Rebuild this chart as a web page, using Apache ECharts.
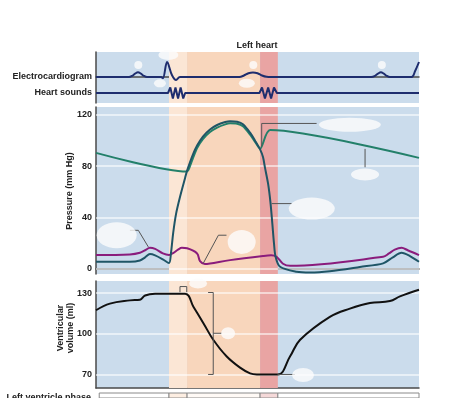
<!DOCTYPE html>
<html>
<head>
<meta charset="utf-8">
<script src="https://cdn.jsdelivr.net/npm/echarts@6/dist/echarts.min.js"></script>
<style>
html, body { margin: 0; padding: 0; background: #fff; }
#main { width: 474px; height: 398px; }
</style>
</head>
<body>
<div id="main"></div>
<script>
// time runs 0..100 across the window
const phaseEdges = [0, 22.6, 28.2, 50.8, 56.3, 100];

const ecg = [[0,0],[10.2,0],[11.2,1.2],[12.1,3.4],[13.0,4.8],[13.9,3.4],[14.8,1.2],[15.8,0],
  [20.1,0],[20.7,-1.2],[22.0,15],[23.5,2],[24.8,-3],[26.0,0],
  [44.4,0],[45.8,1.5],[47.2,3.8],[48.6,4.6],[50.0,3.8],[51.4,1.5],[52.8,0.2],[54.2,0],
  [85.2,0],[86.4,1.2],[87.3,3.4],[88.2,4.8],[89.1,3.4],[90.0,1.2],[91.0,0],
  [97.7,0],[98.8,6],[100,15]];

const heartSounds = [[0,-16],[22.3,-16],[23.0,-10.5],[23.8,-21.5],[24.6,-10.5],[25.4,-21.5],[26.2,-10.5],[27.0,-21.5],[27.6,-16],
  [50.6,-16],[51.4,-10.5],[52.3,-21.5],[53.3,-10.5],[54.2,-21.5],[55.1,-10.5],[56.0,-16],[100,-16]];

const aorticPressure = [[0,90.3],[28.1,75.8],[28.6,77],[29.1,80],[30.0,86],[31.3,94],[33.1,101],[35.3,106.5],
  [37.5,110],[40.0,112.5],[41.5,113.3],[43.7,113],[45.5,111],[47.7,104.5],[49.2,99],[50.8,93.5],
  [53.9,108],[100,86.4]];

const ventricularPressure = [[0,5.5],[10.5,5.5],[13.6,6.5],[15.2,9],[16.7,11.5],[18.3,10.5],[20.7,7.4],[22.6,4.5],
  [23.2,12],[23.9,28],[24.8,43],[26.0,56],[27.6,71],[28.2,76.5],[29.1,83],[30.0,89],[31.3,96],[33.1,103],
  [35.3,108.5],[37.5,112],[40.0,114.3],[41.5,115],[43.7,114.5],[45.5,112.5],[47.7,106],[49.2,100],[50.8,93],
  [51.7,87],[52.3,79],[53.3,66],[54.0,52],[54.6,35],[55.1,20],[55.6,9.4],[57.0,1.6],[62.1,-2.2],[66.3,-2.8],
  [72.4,-1.8],[81.7,1.5],[88.9,4.3],[91.9,9],[94.6,12.5],[97.2,10],[100,5.5]];

const atrialPressure = [[0,10.7],[10.5,11.2],[13.6,12.5],[15.2,14.5],[16.7,16.4],[18.3,15.5],[20.7,12],[22.6,10.8],
  [24.0,12.5],[25.4,15],[26.6,16.4],[28.2,16],[31.3,12],[32.2,6],[33.7,3.8],[35.3,4.2],[41.5,6.8],
  [51.7,10],[54.2,10.5],[55.9,9.4],[57.9,4],[60.1,2.4],[88.9,9.4],[90.7,12],[92.5,15],[94.6,16.4],[96.5,14.5],[100,10.7]];

const volume = [[0,117.4],[4.3,122.3],[10.5,124.7],[13.6,125.2],[15.2,128.3],[18.3,129.5],[27.6,129.5],
  [30.2,119.8],[33.3,107.7],[36.3,95.6],[40.4,83.4],[44.6,75],[47.7,70.8],[49.8,70],[56.3,70],
  [60.1,83.4],[63.2,95.6],[72.4,112.5],[78.6,118.6],[84.8,122.7],[91.0,124.2],[94.1,127.6],[100,132.5]];

const ecgTicks = [0, -16];
const ecgTickNames = ['Electrocardiogram', 'Heart sounds'];
const pressureTicks = [0, 40, 80, 120];
const volumeTicks = [70, 100, 130];

// leader lines and blanked-out label patches
const pressureLeaders = [
  [[10.5,30],[13.1,30],[16.2,17.1]],
  [[40.4,26.2],[37.9,26.2],[33.2,4.3]],
  [[51.3,95.2],[51.3,113.2],[68.3,113.2]],
  [[83.3,93.4],[83.3,79.1]],
  [[54.4,50.8],[60.6,50.8]]
];
const volumeLeaders = [
  [[26.0,130.7],[26.0,134.9],[28.1,134.9],[28.1,130.7]],
  [[34.7,130.5],[36.3,130.5],[36.3,70],[34.7,70]],
  [[36.3,100.4],[39.0,100.4]],
  [[56.2,70],[61.6,70]]
];
const ecgNotes = [[13.1,12],[22.4,22],[19.8,-6.3],[48.7,12],[46.7,-6.3],[88.5,12]];
const pressureNotes = [[6.4,26.2],[45.1,21],[78.6,112.2],[83.3,73.5],[66.8,46.9]];
const volumeNotes = [[31.6,137.1],[40.9,100.4],[64.1,69.6]];

// sizes of the blank patches (px)
const ecgNoteSizes = [[8,8],[20,10],[12,8],[8,8],[16,9],[8,8]];
const pressureNoteSizes = [[40,26],[28,24],[62,14],[28,12],[46,22]];
const volumeNoteSizes = [[18,10],[14,12],[22,14]];

const blue = '#cbdcec';
const phaseColors = [null, '#fbe6d5', '#f8d6bc', '#e9a4a3', null];
const stripColors = ['#ffffff', '#fdeee2', '#fffaf6', '#f5d9d9', '#ffffff'];
const font = 'Liberation Sans';

var chartDom = document.getElementById('main');
var myChart = echarts.init(chartDom, null, { renderer: 'canvas' });

function bands(idx) {
  const data = [];
  for (let i = 0; i < phaseColors.length; i++) {
    if (!phaseColors[i]) continue;
    data.push([{ xAxis: phaseEdges[i], itemStyle: { color: phaseColors[i] } }, { xAxis: phaseEdges[i + 1] }]);
  }
  return {
    type: 'line', xAxisIndex: idx, yAxisIndex: idx, data: [], z: 1, silent: true,
    markArea: { silent: true, data: data }
  };
}

function gridLines(idx, ticks) {
  return {
    type: 'line', xAxisIndex: idx, yAxisIndex: idx, data: [], z: 2, silent: true,
    markLine: {
      silent: true, symbol: 'none', label: { show: false },
      lineStyle: { color: 'rgba(255,255,255,0.75)', width: 1.5, type: 'solid' },
      data: ticks.map(v => ({ yAxis: v }))
    }
  };
}

function leaders(idx, list) {
  return list.map(pts => ({
    type: 'line', xAxisIndex: idx, yAxisIndex: idx, data: pts, z: 6, silent: true,
    symbol: 'none', lineStyle: { color: '#555', width: 1 }
  }));
}

function notes(idx, pts, sizes) {
  return {
    type: 'scatter', xAxisIndex: idx, yAxisIndex: idx, z: 7, silent: true,
    data: pts.map((p, i) => ({ value: p, symbolSize: sizes[i] })),
    symbol: 'circle', itemStyle: { color: '#fdfdfd' }
  };
}

function curve(idx, data, color, smooth) {
  return {
    type: 'line', xAxisIndex: idx, yAxisIndex: idx, data: data, z: 5, silent: true,
    symbol: 'none', smooth: smooth,
    lineStyle: { color: color, width: 2 }
  };
}

const axisLine = { show: true, lineStyle: { color: '#4a4a4a', width: 1.5 } };
const labelStyle = { fontFamily: font, fontWeight: 'bold', fontSize: 9, color: '#222', margin: 4 };

function xAx(idx, show) {
  return { type: 'value', gridIndex: idx, min: 0, max: 100, show: show, axisLine: axisLine,
    axisTick: { show: false }, axisLabel: { show: false }, splitLine: { show: false } };
}
function yAx(idx, min, max, ticks, fmt) {
  return { type: 'value', gridIndex: idx, min: min, max: max, axisLine: axisLine,
    axisTick: { show: false }, splitLine: { show: false },
    axisLabel: Object.assign({ customValues: ticks, formatter: fmt }, labelStyle) };
}

var option = {
  backgroundColor: '#fff',
  animation: false,
  grid: [
    { left: 96, top: 52, width: 323, height: 51, show: true, backgroundColor: blue, borderWidth: 0 },
    { left: 96, top: 107, width: 323, height: 167, show: true, backgroundColor: blue, borderWidth: 0 },
    { left: 96, top: 281, width: 323, height: 107, show: true, backgroundColor: blue, borderWidth: 0 },
    { left: 96, top: 393, width: 323, height: 20 }
  ],
  xAxis: [xAx(0, true), xAx(1, true), xAx(2, true), xAx(3, false)],
  yAxis: [
    yAx(0, -26, 25, ecgTicks, v => ecgTickNames[ecgTicks.indexOf(v)]),
    yAx(1, -4, 126, pressureTicks, v => String(v)),
    yAx(2, 60, 139, volumeTicks, v => String(v)),
    { type: 'value', gridIndex: 3, min: 0, max: 1, show: false }
  ],
  graphic: [
    { type: 'text', x: 257, y: 46, style: { text: 'Left heart', align: 'center', verticalAlign: 'middle',
      font: 'bold 9px "' + font + '"', fill: '#222' } },
    { type: 'text', x: 70, y: 191, rotation: Math.PI / 2, style: { text: 'Pressure (mm Hg)', align: 'center',
      verticalAlign: 'middle', font: 'bold 9px "' + font + '"', fill: '#222' } },
    { type: 'text', x: 66, y: 328, rotation: Math.PI / 2, style: { text: 'Ventricular\nvolume (ml)', align: 'center',
      verticalAlign: 'middle', lineHeight: 10, font: 'bold 9px "' + font + '"', fill: '#222' } },
    { type: 'text', x: 91, y: 393, style: { text: 'Left ventricle phase', align: 'right', verticalAlign: 'top',
      font: 'bold 9px "' + font + '"', fill: '#222' } }
  ],
  series: [
    bands(0), bands(1), bands(2),
    gridLines(1, pressureTicks), gridLines(2, volumeTicks),
    {
      type: 'line', xAxisIndex: 3, yAxisIndex: 3, data: [], z: 1, silent: true,
      markArea: { silent: true, data: stripColors.map((c, i) => [
        { xAxis: i === 0 ? 1 : phaseEdges[i], itemStyle: { color: c, borderColor: '#8a8a8a', borderWidth: 1 } },
        { xAxis: phaseEdges[i + 1] }
      ]) }
    },
    curve(0, ecg, '#1e2d6e', 0.35),
    curve(0, heartSounds, '#1e2d6e', false),
    curve(1, atrialPressure, '#8a1c7c', 0.35),
    curve(1, aorticPressure, '#23806a', 0.25),
    curve(1, ventricularPressure, '#1f5566', 0.3),
    curve(2, volume, '#111111', 0.4)
  ]
    .concat(leaders(1, pressureLeaders))
    .concat(leaders(2, volumeLeaders))
    .concat([notes(0, ecgNotes, ecgNoteSizes), notes(1, pressureNotes, pressureNoteSizes), notes(2, volumeNotes, volumeNoteSizes)])
};

option && myChart.setOption(option);
</script>
</body>
</html>
